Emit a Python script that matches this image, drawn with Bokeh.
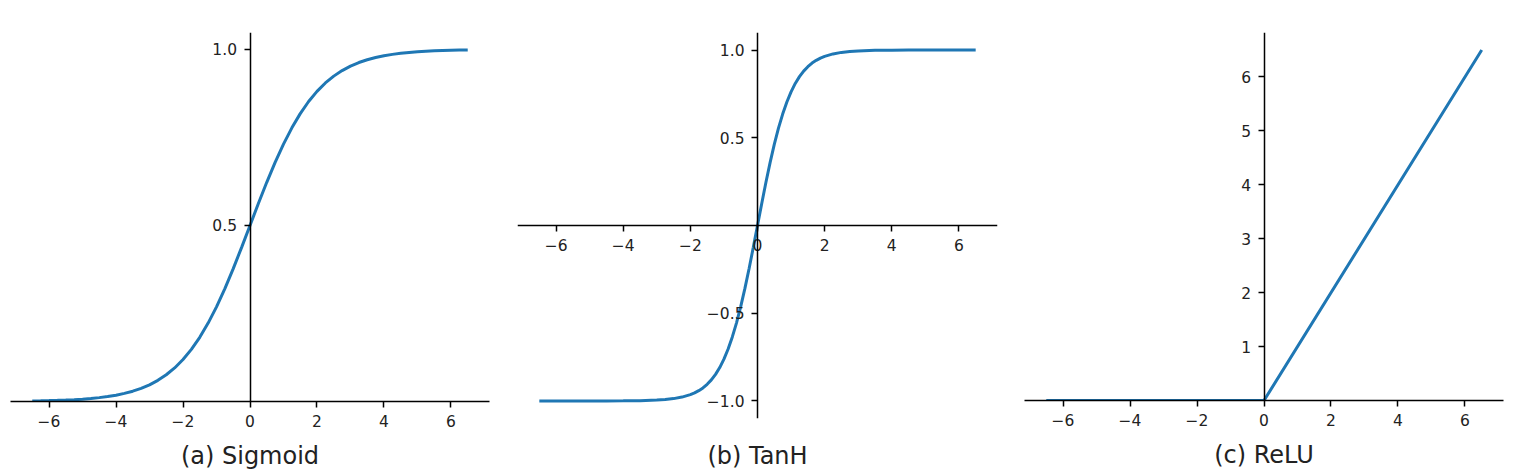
from bokeh.plotting import figure
from bokeh.layouts import row
from bokeh.models import FixedTicker, CustomJSTickFormatter, Range1d, Title
from bokeh.embed import file_html
from bokeh.resources import INLINE

# ---- data ----
x_vals = [-6.5, -6.25, -6.0, -5.75, -5.5, -5.25, -5.0, -4.75, -4.5, -4.25, -4.0, -3.75,
          -3.5, -3.25, -3.0, -2.75, -2.5, -2.25, -2.0, -1.75, -1.5, -1.25, -1.0, -0.75,
          -0.5, -0.25, 0.0, 0.25, 0.5, 0.75, 1.0, 1.25, 1.5, 1.75, 2.0, 2.25, 2.5, 2.75,
          3.0, 3.25, 3.5, 3.75, 4.0, 4.25, 4.5, 4.75, 5.0, 5.25, 5.5, 5.75, 6.0, 6.25, 6.5]
sigmoid_vals = [0.0015, 0.0019, 0.0025, 0.0032, 0.0041, 0.0052, 0.0067, 0.0086, 0.0110,
                0.0141, 0.0180, 0.0230, 0.0293, 0.0373, 0.0474, 0.0601, 0.0759, 0.0953,
                0.1192, 0.1480, 0.1824, 0.2227, 0.2689, 0.3208, 0.3775, 0.4378, 0.5000,
                0.5622, 0.6225, 0.6792, 0.7311, 0.7773, 0.8176, 0.8520, 0.8808, 0.9047,
                0.9241, 0.9399, 0.9526, 0.9627, 0.9707, 0.9770, 0.9820, 0.9859, 0.9890,
                0.9914, 0.9933, 0.9948, 0.9959, 0.9968, 0.9975, 0.9981, 0.9985]
tanh_x = [-6.5, -6.0, -5.5, -5.0, -4.5, -4.0, -3.5, -3.0, -2.75, -2.5, -2.25, -2.0,
          -1.875, -1.75, -1.625, -1.5, -1.375, -1.25, -1.125, -1.0, -0.875, -0.75,
          -0.625, -0.5, -0.375, -0.25, -0.125, 0.0, 0.125, 0.25, 0.375, 0.5, 0.625,
          0.75, 0.875, 1.0, 1.125, 1.25, 1.375, 1.5, 1.625, 1.75, 1.875, 2.0, 2.25,
          2.5, 2.75, 3.0, 3.5, 4.0, 4.5, 5.0, 5.5, 6.0, 6.5]
tanh_vals = [-1.0, -1.0, -1.0, -0.9999, -0.9998, -0.9993, -0.9982, -0.9951, -0.9918,
             -0.9866, -0.9780, -0.9640, -0.9541, -0.9414, -0.9257, -0.9051, -0.8800,
             -0.8483, -0.8096, -0.7616, -0.7039, -0.6351, -0.5546, -0.4621, -0.3584,
             -0.2449, -0.1244, 0.0, 0.1244, 0.2449, 0.3584, 0.4621, 0.5546, 0.6351,
             0.7039, 0.7616, 0.8096, 0.8483, 0.8800, 0.9051, 0.9257, 0.9414, 0.9541,
             0.9640, 0.9780, 0.9866, 0.9918, 0.9951, 0.9982, 0.9993, 0.9998, 0.9999,
             1.0, 1.0, 1.0]
relu_x = [-6.5, 0.0, 6.5]
relu_vals = [0.0, 0.0, 6.5]

x_ticks = [-6, -4, -2, 0, 2, 4, 6]
sigmoid_yticks = [0.5, 1.0]
tanh_yticks = [-1.0, -0.5, 0.5, 1.0]
relu_yticks = [1, 2, 3, 4, 5, 6]
titles = ["(a) Sigmoid", "(b) TanH", "(c) ReLU"]

FONT = "DejaVu Sans"
BLUE = "#1f77b4"
H = 470

def fmt(decimals):
    return CustomJSTickFormatter(code=(
        "const s = Math.abs(tick).toFixed(%d);"
        "return (tick < 0 ? '\\u2212' : '') + s;" % decimals))

def style(ax, ticks, dec):
    ax.ticker = FixedTicker(ticks=ticks, minor_ticks=[])
    ax.formatter = fmt(dec)
    ax.axis_line_color = "black"
    ax.axis_line_width = 1.5
    ax.major_tick_line_color = "black"
    ax.major_tick_line_width = 1.5
    ax.major_tick_out = 6
    ax.major_tick_in = 0
    ax.minor_tick_line_color = None
    ax.major_label_text_font = FONT
    ax.major_label_text_font_size = "15.5px"
    ax.major_label_text_color = "#222222"
    ax.major_label_standoff = 7

def make(xs, ys, yticks, ydec, yr, title, bl, br, fw, fh, x_centered, standoff):
    p = figure(width=bl + fw + br, height=H, frame_width=fw, frame_height=fh,
               x_range=Range1d(-7.15, 7.15), y_range=Range1d(*yr),
               output_backend="svg", toolbar_location=None,
               min_border_left=bl, min_border_right=br, min_border_top=32,
               min_border_bottom=H - 32 - fh)
    p.outline_line_color = None
    p.grid.visible = False
    p.background_fill_color = "white"
    p.border_fill_color = "white"
    p.line(xs, ys, line_color=BLUE, line_width=3)
    style(p.xaxis[0], x_ticks, 0)
    style(p.yaxis[0], yticks, ydec)
    p.yaxis[0].fixed_location = 0
    if x_centered:
        p.xaxis[0].fixed_location = 0
    t = Title(text=title, align="center", text_font=FONT, text_font_size="24px",
              text_font_style="normal", text_color="#222222", standoff=standoff)
    p.add_layout(t, "below")
    return p

p1 = make(x_vals, sigmoid_vals, sigmoid_yticks, 1, (0.0, 1.048), titles[0],
          10, 14, 479, 369, False, 21)
p2 = make(tanh_x, tanh_vals, tanh_yticks, 1, (-1.1, 1.1), titles[1],
          14, 13, 480, 386, True, 42)
p3 = make(relu_x, relu_vals, relu_yticks, 0, (0.0, 6.825), titles[2],
          14, 18, 479, 368, False, 21)

layout = row(p1, p2, p3)
open("out.html", "w").write(file_html(layout, INLINE))
